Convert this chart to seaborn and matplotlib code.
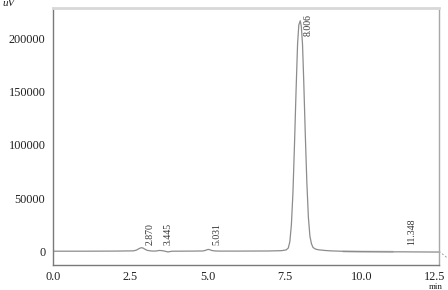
import matplotlib
matplotlib.use("Agg")
import matplotlib.pyplot as plt
import matplotlib.transforms as mtransforms
import seaborn as sns
import pandas as pd
from matplotlib.ticker import MultipleLocator

# chromatogram trace (time in min, signal in uV)
time_min = [0.00, 1.00, 2.00, 2.60, 2.70, 2.76, 2.82, 2.87, 2.92, 2.98, 3.05, 3.15, 3.25,
            3.35, 3.40, 3.445, 3.50, 3.58, 3.65, 3.72, 3.78, 3.85, 4.00, 4.50, 4.85,
            4.93, 4.98, 5.031, 5.08, 5.14, 5.22, 5.35, 6.00, 7.00, 7.40, 7.55, 7.62,
            7.67, 7.72, 7.77, 7.82, 7.87, 7.92, 7.96, 8.006, 8.04, 8.08, 8.12, 8.17,
            8.22, 8.27, 8.32, 8.37, 8.42, 8.50, 8.60, 8.80, 9.00, 9.50, 10.00, 10.50,
            11.00, 11.348, 11.80, 12.50]
signal_uv = [0, 0, 100, 300, 1000, 2000, 2900, 3300, 2900, 1800, 800, 300, 100,
             200, 500, 700, 600, 300, -200, -700, -400, 0, 0, 100, 200,
             700, 1300, 1700, 1300, 700, 300, 100, 100, 200, 500, 1200, 3000,
             9000, 25000, 55000, 100000, 150000, 195000, 213000, 217000, 212000, 195000, 160000, 110000,
             65000, 32000, 14000, 7000, 3500, 2000, 1300, 700, 300, -200, -400, -500,
             -600, -600, -700, -800]

# integration baseline segment (drawn lighter)
base_t = [9.40, 11.00]
base_v = [-250, -600]

peak_times = [2.870, 3.445, 5.031, 8.006, 11.348]
peak_labels = ["2.870", "3.445", "5.031", "8.006", "11.348"]
peak_heights = [3300, 700, 1700, 217000, -600]

x_ticks = [0.0, 2.5, 5.0, 7.5, 10.0, 12.5]
x_ticklabels = ["0.0", "2.5", "5.0", "7.5", "10.0", "12.5"]
y_ticks = [0, 50000, 100000, 150000, 200000]

sns.set_style("white")
plt.rcParams["font.family"] = ["Liberation Serif", "DejaVu Serif"]

df = pd.DataFrame({"t": time_min, "uV": signal_uv})

fig = plt.figure(figsize=(4.48, 2.90), dpi=100)
ax = fig.add_axes([53 / 448, 1 - 265 / 290, (439 - 53) / 448, (265 - 8) / 290])

sns.lineplot(data=df, x="t", y="uV", ax=ax, color="#8c8c8c", linewidth=0.9,
             estimator=None, sort=False)
ax.plot(base_t, base_v, color="#d4d4d4", linewidth=1.6, zorder=1)
# trace leaving the plotting area on the right
ax.plot([12.5, 12.78], [0, -6600], color="#a0a0a0", linewidth=0.7,
        linestyle=(0, (2, 2)), clip_on=False)

for t, lab, h in zip(peak_times, peak_labels, peak_heights):
    if h > 100000:
        ax.annotate(lab, xy=(t, h), xytext=(6, -11), textcoords="offset points",
                    rotation=90, ha="center", va="bottom", fontsize=7, color="#333333")
    else:
        ax.annotate(lab, xy=(t, 0), xytext=(6, 4.5), textcoords="offset points",
                    rotation=90, ha="center", va="bottom", fontsize=7, color="#333333")

ax.set_xlim(0, 12.5)
ax.set_ylim(-13000, 229000)
ax.set_xticks(x_ticks)
ax.set_xticklabels(x_ticklabels)
ax.set_yticks(y_ticks)
ax.xaxis.set_minor_locator(MultipleLocator(0.5))
ax.yaxis.set_minor_locator(MultipleLocator(10000))
ax.set_xlabel("")
ax.set_ylabel("")

ax.tick_params(axis="both", which="major", direction="out", length=4, width=0.8,
               color="#707070", labelsize=8.8, labelcolor="#222222", pad=1.5)
ax.tick_params(axis="both", which="minor", direction="out", length=2.5, width=0.6,
               color="#707070")
ax.tick_params(axis="x", which="major", pad=0.5)

# pull the last x tick label slightly inward so it stays inside the figure
last = ax.get_xticklabels()[-1]
last.set_transform(last.get_transform() +
                   mtransforms.ScaledTranslation(-4 / 100, 0, fig.dpi_scale_trans))

for side, col, lw in [("left", "#7a7a7a", 1.0), ("bottom", "#7a7a7a", 1.0),
                      ("right", "#a8a8a8", 1.0), ("top", "#d8d8d8", 2.0)]:
    ax.spines[side].set_visible(True)
    ax.spines[side].set_color(col)
    ax.spines[side].set_linewidth(lw)

fig.text(2 / 448, 1 - 4 / 290, "uV", fontsize=8, ha="left", va="center",
         style="italic", color="#222222")
fig.text(436 / 448, 1 - 287 / 290, "min", fontsize=6.5, ha="center", va="center",
         color="#222222")

fig.savefig("out.png", dpi=100)
